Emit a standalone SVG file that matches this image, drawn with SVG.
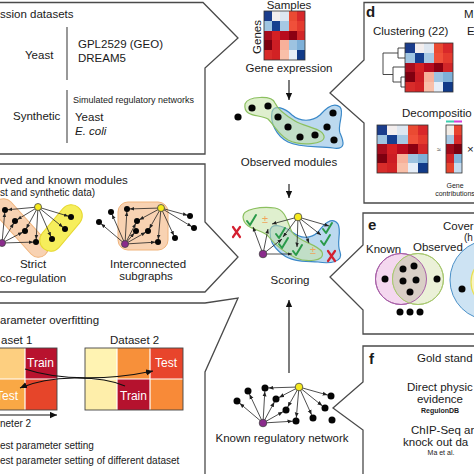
<svg xmlns="http://www.w3.org/2000/svg" xmlns:xlink="http://www.w3.org/1999/xlink" width="474" height="474" viewBox="0 0 474 474">
<style>
text{font-family:"Liberation Sans",Arial,Helvetica,sans-serif;fill:#1a1a1a;font-size:11.5px}
.s{font-size:10px}
.ss{font-size:9px}
.xs{font-size:7px}
.lbl{font-weight:bold;font-size:15px}
.mid{text-anchor:middle}
.frame{fill:none;stroke:#4a4a4a;stroke-width:1.3}
.n{fill:#050505}
.y{fill:#f6ea1e;stroke:#444;stroke-width:0.8}
.p{fill:#8a2b8c;stroke:#444;stroke-width:0.8}
.e{stroke:#222;stroke-width:0.8;fill:none;marker-end:url(#ah)}
.es{stroke:#222;stroke-width:0.8;fill:none;marker-end:url(#ahs)}
.ec{stroke:#222;stroke-width:0.8;fill:none;marker-end:url(#ahc)}
.flow{stroke:#111;stroke-width:1.1;fill:none;marker-end:url(#big)}
.hb{fill:none;stroke:#333;stroke-width:0.8}
.chk{fill:none;stroke:#2a9a4a;stroke-width:2;stroke-linecap:round;stroke-linejoin:round}
.xx{fill:none;stroke:#d42030;stroke-width:2.2;stroke-linecap:round}
.pm{fill:#f0a55a;font-size:11px}
.cw{fill:#fff;font-size:12px}
.grid{stroke:#fff;stroke-width:1.2}
</style>
<defs>
<marker id="ah" viewBox="0 0 10 10" refX="17" refY="5" markerWidth="5" markerHeight="5" markerUnits="userSpaceOnUse" orient="auto"><path d="M0,1 L10,5 L0,9 z" fill="#222"/></marker>
<marker id="ahs" viewBox="0 0 10 10" refX="16" refY="5" markerWidth="4.5" markerHeight="4.5" markerUnits="userSpaceOnUse" orient="auto"><path d="M0,1 L10,5 L0,9 z" fill="#222"/></marker>
<marker id="ahc" viewBox="0 0 10 10" refX="10" refY="5" markerWidth="4.5" markerHeight="4.5" markerUnits="userSpaceOnUse" orient="auto"><path d="M0,1 L10,5 L0,9 z" fill="#222"/></marker>
<marker id="big" viewBox="0 0 10 10" refX="10" refY="5" markerWidth="7" markerHeight="7" markerUnits="userSpaceOnUse" orient="auto"><path d="M0,0.5 L10,5 L0,9.5 z" fill="#111"/></marker>
<g id="hm" shape-rendering="crispEdges">
<rect x="0" y="0" width="1.05" height="1.05" fill="#1b3d8c"/><rect x="1" y="0" width="1.05" height="1.05" fill="#f3eeee"/><rect x="2" y="0" width="1.05" height="1.05" fill="#dde6f0"/><rect x="3" y="0" width="1.05" height="1.05" fill="#ea4a32"/><rect x="4" y="0" width="1" height="1.05" fill="#d8282a"/>
<rect x="0" y="1" width="1.05" height="1.05" fill="#9fc5e2"/><rect x="1" y="1" width="1.05" height="1.05" fill="#163f8f"/><rect x="2" y="1" width="1.05" height="1.05" fill="#a6c8e4"/><rect x="3" y="1" width="1.05" height="1.05" fill="#f0503a"/><rect x="4" y="1" width="1" height="1.05" fill="#e43a2e"/>
<rect x="0" y="2" width="1.05" height="1.05" fill="#a80d1e"/><rect x="1" y="2" width="1.05" height="1.05" fill="#d42024"/><rect x="2" y="2" width="1.05" height="1.05" fill="#b80b1e"/><rect x="3" y="2" width="1.05" height="1.05" fill="#8c0012"/><rect x="4" y="2" width="1" height="1.05" fill="#d22628"/>
<rect x="0" y="3" width="1.05" height="1.05" fill="#7e0010"/><rect x="1" y="3" width="1.05" height="1.05" fill="#cc1d24"/><rect x="2" y="3" width="1.05" height="1.05" fill="#f7b09a"/><rect x="3" y="3" width="1.05" height="1.05" fill="#9dc3e0"/><rect x="4" y="3" width="1" height="1.05" fill="#7eb0d8"/>
<rect x="0" y="4" width="1.05" height="1" fill="#d82c2a"/><rect x="1" y="4" width="1.05" height="1" fill="#d22224"/><rect x="2" y="4" width="1.05" height="1" fill="#f9bfa8"/><rect x="3" y="4" width="1.05" height="1" fill="#e6eef8"/><rect x="4" y="4" width="1" height="1" fill="#113a88"/>
</g>
<g id="hm2" shape-rendering="crispEdges">
<rect x="0" y="0" width="1.05" height="1.05" fill="#f2ece6"/><rect x="1" y="0" width="1" height="1.05" fill="#e8442f"/>
<rect x="0" y="1" width="1.05" height="1.05" fill="#a8c8e2"/><rect x="1" y="1" width="1" height="1.05" fill="#d92a2a"/>
<rect x="0" y="2" width="1.05" height="1.05" fill="#a00a1a"/><rect x="1" y="2" width="1" height="1.05" fill="#7c0010"/>
<rect x="0" y="3" width="1.05" height="1.05" fill="#d02226"/><rect x="1" y="3" width="1" height="1.05" fill="#84b4da"/>
<rect x="0" y="4" width="1.05" height="1" fill="#e6442e"/><rect x="1" y="4" width="1" height="1" fill="#c6dcf0"/>
</g>
<clipPath id="clipP"><circle cx="401" cy="279" r="25.5"/></clipPath>
</defs>

<rect width="474" height="474" fill="#fff"/>

<!-- Panel a -->
<g id="panel-a">
<path class="frame" d="M -5,2.5 H 203 L 238,38 L 205,68 V 154 H -5"/>
<text x="0" y="18">ssion datasets</text>
<text x="25" y="58.5">Yeast</text>
<line x1="67" y1="27" x2="67" y2="80" stroke="#444" stroke-width="1.1"/>
<text x="78" y="48">GPL2529 (GEO)</text>
<text x="78" y="62">DREAM5</text>
<line x1="67" y1="90" x2="67" y2="143" stroke="#444" stroke-width="1.1"/>
<text x="73" y="103" class="ss">Simulated regulatory networks</text>
<text x="13" y="120">Synthetic</text>
<text x="75" y="121">Yeast</text>
<text x="75" y="135" font-style="italic">E. coli</text>
</g>

<!-- Panel b -->
<g id="panel-b">
<path class="frame" d="M -5,164 H 205 V 222 L 238,257 L 205,292 H -5"/>
<text x="0" y="183.5">rved and known modules</text>
<text x="0" y="196" class="s">st and synthetic data)</text>
<rect x="-15" y="218" width="72" height="20" rx="10" transform="rotate(48 21 228)" fill="#f8d2b2" stroke="#f0b47c" stroke-width="1"/>
<rect x="34" y="217" width="54" height="22" rx="11" transform="rotate(-50 61 228)" fill="#f6ee5c" stroke="#e6d830" stroke-width="1"/>
<g>
<line class="es" x1="38" y1="207" x2="5" y2="210"/>
<line class="es" x1="38" y1="207" x2="15" y2="221"/>
<line class="es" x1="38" y1="207" x2="25" y2="231"/>
<line class="es" x1="38" y1="207" x2="36" y2="242"/>
<line class="es" x1="38" y1="207" x2="52" y2="239"/>
<line class="es" x1="38" y1="207" x2="65" y2="229"/>
<line class="es" x1="38" y1="207" x2="71" y2="217"/>
<line class="es" x1="2" y1="243" x2="5" y2="210"/>
<line class="es" x1="2" y1="243" x2="15" y2="221"/>
<line class="es" x1="2" y1="243" x2="25" y2="231"/>
<line class="es" x1="2" y1="243" x2="36" y2="242"/>
</g>
<circle class="n" cx="5" cy="210" r="3"/><circle class="n" cx="15" cy="221" r="3"/><circle class="n" cx="25" cy="231" r="3"/><circle class="n" cx="36" cy="242" r="3"/>
<circle class="n" cx="52" cy="239" r="3"/><circle class="n" cx="65" cy="229" r="3"/><circle class="n" cx="71" cy="217" r="3"/>
<circle class="y" cx="38" cy="207" r="3.5"/><circle class="p" cx="2" cy="243" r="3.5"/>
<text x="33" y="268" class="mid">Strict</text>
<text x="33" y="282" class="mid">co-regulation</text>

<rect x="118" y="202" width="50" height="48" rx="10" fill="#f8d2b2" stroke="#f0b47c" stroke-width="1"/>
<g>
<line class="es" x1="161" y1="208" x2="127" y2="209"/>
<line class="es" x1="161" y1="208" x2="137" y2="221"/>
<line class="es" x1="161" y1="208" x2="148" y2="231"/>
<line class="es" x1="161" y1="208" x2="158" y2="242"/>
<line class="es" x1="161" y1="208" x2="190" y2="216"/>
<line class="es" x1="161" y1="208" x2="194" y2="228"/>
<line class="es" x1="161" y1="208" x2="175" y2="238"/>
<line class="es" x1="125" y1="244" x2="99" y2="222"/>
<line class="es" x1="125" y1="244" x2="111" y2="212"/>
<line class="es" x1="125" y1="244" x2="127" y2="209"/>
<line class="es" x1="125" y1="244" x2="137" y2="221"/>
<line class="es" x1="125" y1="244" x2="136" y2="231"/>
<line class="es" x1="125" y1="244" x2="148" y2="231"/>
<line class="es" x1="125" y1="244" x2="158" y2="242"/>
</g>
<circle class="n" cx="111" cy="212" r="3"/><circle class="n" cx="99" cy="222" r="3"/><circle class="n" cx="127" cy="209" r="3"/><circle class="n" cx="137" cy="221" r="3"/>
<circle class="n" cx="148" cy="231" r="3"/><circle class="n" cx="136" cy="231" r="3"/><circle class="n" cx="158" cy="242" r="3"/>
<circle class="n" cx="190" cy="216" r="3"/><circle class="n" cx="194" cy="228" r="3"/><circle class="n" cx="175" cy="238" r="3"/>
<circle class="y" cx="161" cy="208" r="3.5"/><circle class="p" cx="125" cy="244" r="3.5"/>
<text x="148" y="268" class="mid">Interconnected</text>
<text x="146" y="280" class="mid">subgraphs</text>
</g>

<!-- Panel c -->
<g id="panel-c">
<path class="frame" d="M -5,303 H 205 L 238,298 L 205,372 V 480"/>
<text x="0" y="324">arameter overfitting</text>
<text x="1" y="344">aset 1</text>
<text x="110" y="344">Dataset 2</text>
<g shape-rendering="crispEdges">
<rect x="-7" y="348" width="32" height="31" fill="#fdcf80"/>
<rect x="25" y="348" width="32" height="31" fill="#b8122e"/>
<rect x="-7" y="379" width="32" height="31" fill="#f9a845"/>
<rect x="25" y="379" width="32" height="31" fill="#e6452a"/>
<rect x="85" y="348" width="32" height="31" fill="#fff3b2"/>
<rect x="117" y="348" width="33" height="31" fill="#f7903a"/>
<rect x="150" y="348" width="33" height="31" fill="#e8452c"/>
<rect x="85" y="379" width="32" height="31" fill="#feeeaa"/>
<rect x="117" y="379" width="33" height="31" fill="#b5122e"/>
<rect x="150" y="379" width="33" height="31" fill="#f88a38"/>
</g>
<line class="grid" x1="25" y1="348" x2="25" y2="410"/><line class="grid" x1="-7" y1="379" x2="57" y2="379"/>
<line class="grid" x1="117" y1="348" x2="117" y2="410"/><line class="grid" x1="150" y1="348" x2="150" y2="410"/><line class="grid" x1="85" y1="379" x2="183" y2="379"/>
<rect x="-7" y="348" width="64" height="62" fill="none" stroke="#444" stroke-width="0.9"/>
<rect x="85" y="348" width="98" height="62" fill="none" stroke="#444" stroke-width="0.9"/>
<text x="27" y="367" class="cw">Train</text>
<text x="-4" y="400" class="cw">Test</text>
<text x="155" y="367" class="cw">Test</text>
<text x="120" y="400" class="cw">Train</text>
<path class="flow" d="M 25,369 C 60,381 110,380 153,371"/>
<path class="flow" d="M 125,386 C 100,375 50,375 20,388"/>
<line class="flow" x1="-5" y1="415" x2="57" y2="415"/>
<text x="0" y="427" class="s">neter 2</text>
<text x="0" y="449" class="s">est parameter setting</text>
<text x="0" y="464" class="s">est parameter setting of different dataset</text>
</g>

<!-- Panel d -->
<g id="panel-d">
<path class="frame" d="M 480,2.5 H 364 V 60 L 330,93 L 364,123 V 203 H 480"/>
<text x="366" y="17" class="lbl">d</text>
<text x="464" y="18">M</text>
<text x="373" y="35">Clustering (22)</text>
<text x="467" y="35">E</text>
<g fill="none" stroke="#333" stroke-width="0.9">
<path d="M405,48 H398 V58 H405"/>
<path d="M405,77 H401 V87 H405"/>
<path d="M405,67 H393 V82 H401"/>
<path d="M398,53 H383 V74.5 H393"/>
</g>
<use href="#hm" xlink:href="#hm" transform="translate(405,43) scale(9.6,9.8)"/>
<rect class="hb" x="405" y="43" width="48" height="49"/>
<text x="402" y="117">Decompositio</text>
<use href="#hm" xlink:href="#hm" transform="translate(377,125) scale(10.2,9.6)"/>
<rect class="hb" x="377" y="125" width="51" height="48"/>
<text x="437" y="152" class="xs" fill="#555">≈</text>
<rect x="446" y="120.5" width="8" height="2" fill="#3ccfb0"/>
<rect x="454" y="120.5" width="8" height="2" fill="#d23ed6"/>
<use href="#hm2" xlink:href="#hm2" transform="translate(446,125) scale(8,9.6)"/>
<rect class="hb" x="446" y="125" width="16" height="48"/>
<text x="467" y="153" font-size="10">×</text>
<text x="455" y="188" class="xs mid">Gene</text>
<text x="455" y="196" class="xs mid">contributions</text>
</g>

<!-- Panel e -->
<g id="panel-e">
<path class="frame" d="M 480,213 H 363 V 245 L 330,277 L 363,310 V 334 H 480"/>
<text x="368" y="230" class="lbl">e</text>
<text x="443" y="230">Cover</text>
<text x="464" y="241" class="s">(h</text>
<text x="366" y="253" font-size="7.5">Known</text>
<text x="413" y="251" font-size="7.5">Observed</text>
<circle cx="401" cy="279" r="25.5" fill="#f4d8ef" stroke="#a860a8" stroke-width="1"/>
<circle cx="418" cy="279" r="25.5" fill="#ebf1d8" stroke="#a8c870" stroke-width="1"/>
<circle cx="418" cy="279" r="25.5" fill="#d9cfc6" clip-path="url(#clipP)"/>
<circle cx="401" cy="279" r="25.5" fill="none" stroke="#a860a8" stroke-width="1"/>
<circle cx="418" cy="279" r="25.5" fill="none" stroke="#a8c870" stroke-width="1"/>
<circle class="n" cx="385" cy="279" r="3.5"/><circle class="n" cx="437" cy="279" r="3.5"/>
<circle class="n" cx="403" cy="269" r="3.5"/><circle class="n" cx="414" cy="266" r="3.5"/><circle class="n" cx="403" cy="281" r="3.5"/><circle class="n" cx="416" cy="280" r="3.5"/><circle class="n" cx="410" cy="292" r="3.5"/>
<circle class="n" cx="400" cy="312" r="3.5"/><circle class="n" cx="410" cy="312" r="3.5"/><circle class="n" cx="420" cy="312" r="3.5"/>
<circle cx="490" cy="280" r="40" fill="#cde3f3" stroke="#4a90c8" stroke-width="1"/>
<circle cx="497" cy="282" r="26" fill="#f8f3c0" stroke="#e8e050" stroke-width="1.2"/>
<circle class="n" cx="462" cy="289" r="3.5"/>
</g>

<!-- Panel f -->
<g id="panel-f">
<path class="frame" d="M 480,346 H 363 V 382 L 333,408 L 363,430 V 480"/>
<text x="369" y="364" class="lbl">f</text>
<text x="417" y="361.5">Gold stand</text>
<text x="407" y="391">Direct physic</text>
<text x="440" y="403" class="mid">evidence</text>
<text x="440" y="413" class="xs mid" font-weight="bold">RegulonDB</text>
<text x="411" y="433.5">ChIP-Seq ar</text>
<text x="403" y="446">knock out da</text>
<text x="441" y="455" class="xs mid">Ma et al.</text>
</g>

<!-- Gene expression -->
<g id="gene-expression">
<text x="289" y="8.5" class="mid">Samples</text>
<text transform="translate(261,37) rotate(-90)" class="mid">Genes</text>
<use href="#hm" xlink:href="#hm" transform="translate(264,11) scale(8.2,9.8)"/>
<rect class="hb" x="264" y="11" width="41" height="49"/>
<text x="289" y="72" class="mid">Gene expression</text>
</g>

<!-- Observed modules -->
<g id="observed-modules">
<path d="M 272,112 C 274,104 285,108 292,115 C 300,122 312,122 320,115 C 326,108 334,102 340,107 C 345,112 337,125 340,133 C 344,142 346,150 333,148 C 318,146 300,148 288,142 C 276,136 270,122 272,112 Z" fill="#bcd9ef" stroke="#3a88c8" stroke-width="1.2"/>
<path d="M 245,104 C 248,96 272,95 275,103 C 278,110 285,115 295,121 C 305,127 322,128 324,136 C 326,145 300,146 288,140 C 278,134 275,126 268,119 C 260,114 243,118 245,104 Z" fill="#c4e2a6" fill-opacity="0.55" stroke="#8cc060" stroke-width="1.2"/>
<circle class="n" cx="238" cy="117" r="3.6"/><circle class="n" cx="252" cy="108" r="3.6"/><circle class="n" cx="268" cy="106" r="3.6"/><circle class="n" cx="278" cy="117" r="3.6"/><circle class="n" cx="288" cy="127" r="3.6"/>
<circle class="n" cx="300" cy="137" r="3.6"/><circle class="n" cx="315" cy="135" r="3.6"/><circle class="n" cx="327" cy="127" r="3.6"/><circle class="n" cx="333" cy="113" r="3.6"/><circle class="n" cx="334" cy="140" r="3.6"/>
<text x="289" y="165.5" class="mid">Observed modules</text>
</g>

<!-- Scoring -->
<g id="scoring">
<path d="M 270,232 C 270,222 282,225 292,232 C 300,238 310,240 318,232 C 324,224 332,216 338,224 C 342,232 336,242 340,252 C 344,262 330,264 318,262 C 304,261 292,262 282,254 C 272,246 270,240 270,232 Z" fill="#bcd9ef" stroke="#3a88c8" stroke-width="1.2"/>
<path d="M 243,217 C 242,209 262,206 275,208 C 286,210 287,222 292,232 C 298,242 318,244 322,252 C 326,262 305,262 296,258 C 285,253 276,246 268,236 C 262,229 244,230 243,217 Z" fill="#c4e2a6" fill-opacity="0.55" stroke="#8cc060" stroke-width="1.2"/>
<g>
<line class="ec" x1="298" y1="217" x2="272" y2="224"/>
<line class="ec" x1="298" y1="217" x2="283" y2="237"/>
<line class="ec" x1="298" y1="217" x2="297" y2="247"/>
<line class="ec" x1="298" y1="217" x2="309" y2="243"/>
<line class="ec" x1="298" y1="217" x2="321" y2="235"/>
<line class="ec" x1="298" y1="217" x2="329" y2="226"/>
<line class="ec" x1="263" y1="254" x2="253" y2="227"/>
<line class="ec" x1="263" y1="254" x2="268" y2="229"/>
<line class="ec" x1="263" y1="254" x2="282" y2="239"/>
<line class="ec" x1="263" y1="254" x2="292" y2="254"/>
</g>
<path class="chk" d="M247,221 L250,225 L256,215"/>
<path class="chk" d="M276,234 L279,238 L285,228"/>
<path class="chk" d="M279,244 L282,248 L288,238"/>
<path class="chk" d="M293,251 L296,255 L302,245"/>
<path class="chk" d="M323,229 L326,233 L332,223"/>
<path class="chk" d="M321,241 L324,245 L330,235"/>
<text x="265" y="223" class="pm mid">±</text>
<text x="313" y="254" class="pm mid">±</text>
<path class="xx" d="M233,227 L240,237 M240,227 L233,237"/>
<path class="xx" d="M328,251 L335,261 M335,251 L328,261"/>
<circle class="y" cx="298" cy="217" r="3.8"/>
<circle class="p" cx="263" cy="254" r="3.8"/>
<text x="290" y="283.5" class="mid">Scoring</text>
</g>

<!-- Known regulatory network -->
<g id="known-network">
<g>
<line class="e" x1="299" y1="387" x2="265" y2="388"/>
<line class="e" x1="299" y1="387" x2="276" y2="399"/>
<line class="e" x1="299" y1="387" x2="286" y2="410"/>
<line class="e" x1="299" y1="387" x2="296" y2="421"/>
<line class="e" x1="299" y1="387" x2="313" y2="418"/>
<line class="e" x1="299" y1="387" x2="325" y2="408"/>
<line class="e" x1="299" y1="387" x2="331" y2="396"/>
<line class="e" x1="263" y1="423" x2="237" y2="401"/>
<line class="e" x1="263" y1="423" x2="248" y2="391"/>
<line class="e" x1="263" y1="423" x2="265" y2="388"/>
<line class="e" x1="263" y1="423" x2="276" y2="399"/>
<line class="e" x1="263" y1="423" x2="286" y2="410"/>
<line class="e" x1="263" y1="423" x2="296" y2="421"/>
</g>
<circle class="n" cx="248" cy="391" r="3.5"/><circle class="n" cx="265" cy="388" r="3.5"/><circle class="n" cx="237" cy="401" r="3.5"/><circle class="n" cx="276" cy="399" r="3.5"/><circle class="n" cx="286" cy="410" r="3.5"/>
<circle class="n" cx="296" cy="421" r="3.5"/><circle class="n" cx="313" cy="418" r="3.5"/><circle class="n" cx="325" cy="408" r="3.5"/><circle class="n" cx="331" cy="396" r="3.5"/><circle class="n" cx="332" cy="420" r="3.5"/>
<circle class="y" cx="299" cy="387" r="3.8"/>
<circle class="p" cx="263" cy="423" r="3.8"/>
<text x="282" y="441.5" class="mid">Known regulatory network</text>
</g>

<!-- Connectors -->
<g id="connectors">
<line class="flow" x1="289" y1="80" x2="289" y2="100"/>
<line class="flow" x1="289" y1="184" x2="289" y2="198"/>
<line class="flow" x1="289" y1="373" x2="289" y2="300"/>
</g>
</svg>
